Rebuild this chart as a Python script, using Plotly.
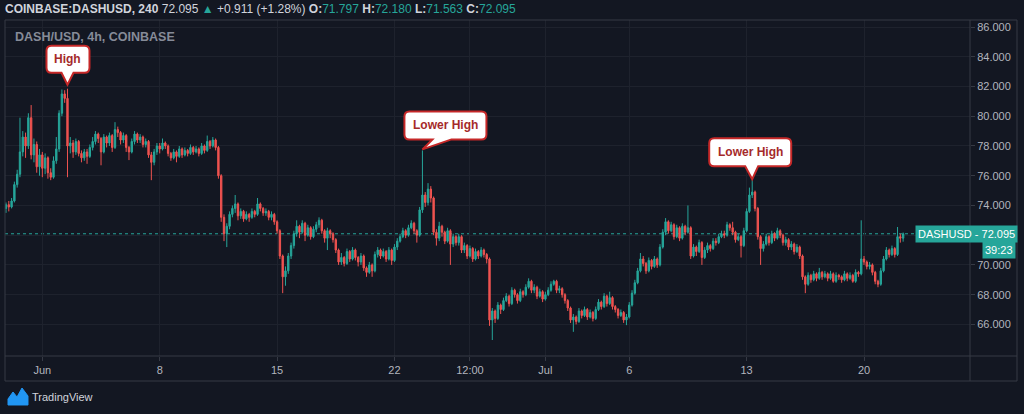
import pandas as pd
import plotly.graph_objects as go

# ---------------- data (DASH/USD, 4h candles, Coinbase) ----------------
first_bar = "2020-05-29 20:00"

opens = [73.8,
 74.05, 73.9, 74.3, 75.4, 76.1, 77.6, 78.6, 78.0, 79.9, 77.4,
 78.1, 76.6, 77.4, 76.5, 77.2, 76.2, 75.9, 77.0, 77.8, 80.2,
 81.5, 81.2, 78.0, 78.2, 77.6, 78.3, 77.5, 77.2, 77.6, 77.3,
 77.9, 78.3, 78.8, 78.5, 77.6, 78.6, 78.2, 78.7, 77.9, 79.1,
 78.9, 78.4, 78.7, 77.9, 77.6, 78.3, 78.8, 78.4, 78.6, 78.1,
 78.3, 77.4, 76.9, 77.6, 78.0, 77.8, 78.2, 78.0, 77.5, 77.2,
 77.6, 77.3, 77.8, 77.4, 77.7, 77.5, 77.9, 77.6, 77.8, 77.5,
 78.0, 77.7, 78.3, 78.0, 78.4, 77.9, 76.0, 73.2, 72.1, 72.6,
 73.4, 73.8, 74.1, 73.3, 73.6, 73.1, 73.4, 73.2, 73.6, 73.4,
 74.1, 73.8, 73.5, 73.6, 73.2, 73.4, 72.9, 72.3, 70.6, 69.2,
 69.6, 70.6, 71.3, 72.1, 72.6, 72.2, 72.8, 72.0, 72.5, 71.9,
 72.4, 72.7, 73.0, 72.3, 71.8, 72.3, 72.1, 71.7, 71.0, 70.2,
 70.5, 70.1, 70.9, 70.4, 71.0, 70.5, 70.2, 70.6, 69.8, 69.5,
 70.0, 69.6, 70.7, 71.0, 70.6, 70.9, 70.4, 71.0, 70.3, 71.2,
 71.6, 71.9, 72.3, 72.0, 72.5, 72.8, 72.3, 72.0, 73.7, 74.7,
 74.2, 75.1, 74.5, 72.2, 71.8, 72.6, 72.2, 71.6, 72.3, 71.4,
 71.9, 71.5, 71.9, 71.0, 71.3, 70.6, 71.1, 70.4, 70.9, 70.6,
 71.0, 70.7, 70.4, 66.3, 66.9, 66.4, 67.3, 67.0, 67.6, 67.9,
 67.4, 68.3, 68.0, 67.6, 68.2, 68.0, 68.5, 68.9, 68.3, 68.5,
 67.9, 68.2, 67.7, 68.0, 68.3, 68.7, 68.9, 68.3, 68.4, 68.0,
 67.6, 67.1, 66.3, 66.5, 66.2, 66.9, 66.6, 67.0, 66.5, 66.8,
 66.4, 67.0, 67.5, 67.2, 67.9, 67.4, 67.8, 67.2, 67.0, 66.6,
 66.8, 66.3, 66.5, 67.3, 68.1, 68.8, 69.6, 70.4, 70.1, 69.6,
 70.3, 69.9, 70.4, 70.0, 71.2, 72.2, 72.9, 72.3, 72.7, 71.9,
 72.5, 71.8, 72.6, 72.2, 72.5, 70.6, 71.2, 70.9, 71.5, 70.5,
 71.0, 71.3, 71.1, 71.6, 71.5, 71.9, 72.1, 72.0, 72.7, 72.5,
 72.2, 71.7, 71.9, 71.3, 72.3, 73.6, 74.7, 74.9, 73.8, 71.9,
 71.1, 71.4, 71.9, 71.5, 72.1, 71.8, 72.3, 72.0, 71.5, 71.7,
 71.2, 71.4, 70.9, 71.2, 70.6, 69.2, 68.7, 69.3, 69.0, 69.4,
 69.1, 69.5, 69.2, 69.4, 69.1, 69.4, 68.9, 69.3, 69.2, 69.0,
 69.4, 69.1, 69.3, 68.9, 69.5, 69.4, 70.4, 70.2, 69.9, 70.0,
 69.5, 68.9, 68.7, 69.6, 70.4, 71.0, 70.7, 71.1, 70.7, 71.9,
 71.797]

highs = [
 74.2, 74.3, 74.5, 75.6, 76.4, 79.9, 79.0, 78.9, 80.2, 80.75,
 78.5, 78.3, 77.8, 77.6, 77.5, 77.3, 76.5, 77.3, 78.6, 80.4,
 81.8, 81.75, 81.85, 78.6, 78.4, 78.5, 78.4, 77.7, 77.8, 77.8,
 78.1, 78.6, 79.0, 78.9, 78.6, 78.8, 78.7, 78.9, 78.8, 79.6,
 79.3, 79.0, 78.9, 78.8, 78.0, 78.5, 79.0, 78.9, 78.8, 78.7,
 78.5, 78.4, 77.6, 77.8, 78.2, 78.2, 78.5, 78.3, 78.1, 77.6,
 77.8, 77.7, 78.0, 77.9, 77.9, 77.8, 78.1, 78.0, 78.0, 77.9,
 78.2, 78.1, 78.7, 78.4, 78.6, 78.5, 78.0, 76.1, 73.4, 72.8,
 73.6, 74.0, 74.7, 74.2, 73.8, 73.7, 73.6, 73.5, 73.8, 73.7,
 74.5, 74.2, 73.9, 73.8, 73.7, 73.6, 73.5, 73.0, 72.4, 70.7,
 69.9, 70.8, 71.5, 72.3, 73.0, 72.7, 73.0, 72.9, 72.7, 72.6,
 72.6, 72.9, 73.2, 73.1, 72.4, 72.5, 72.4, 72.2, 71.8, 71.1,
 70.8, 70.6, 71.1, 71.0, 71.2, 71.1, 70.6, 70.8, 70.7, 69.9,
 70.2, 70.1, 70.9, 71.2, 71.1, 71.1, 71.0, 71.2, 71.1, 71.4,
 71.8, 72.1, 72.5, 72.4, 72.7, 73.0, 72.9, 72.4, 73.9, 77.7,
 74.9, 75.5, 75.3, 74.6, 72.4, 72.9, 72.7, 72.3, 72.5, 72.4,
 72.1, 72.0, 72.1, 72.0, 71.5, 71.4, 71.3, 71.2, 71.1, 71.0,
 71.2, 71.1, 70.8, 70.5, 67.1, 67.0, 67.5, 67.4, 67.8, 68.1,
 68.0, 68.5, 68.4, 68.1, 68.4, 68.3, 68.7, 69.1, 69.0, 68.7,
 68.6, 68.4, 68.3, 68.2, 68.5, 68.9, 69.0, 69.0, 68.6, 68.5,
 68.1, 67.7, 67.2, 66.7, 66.6, 67.1, 67.0, 67.2, 67.1, 67.0,
 66.9, 67.2, 67.7, 67.6, 68.1, 68.0, 68.2, 67.9, 67.3, 67.1,
 67.0, 66.9, 66.7, 67.5, 68.3, 69.0, 69.8, 70.8, 70.6, 70.2,
 70.5, 70.4, 70.6, 70.5, 71.4, 72.4, 73.15, 73.0, 72.9, 72.8,
 72.7, 72.6, 72.8, 72.7, 74.0, 72.6, 71.4, 71.3, 71.7, 71.6,
 71.2, 71.5, 71.4, 71.8, 71.8, 72.1, 72.3, 72.3, 72.9, 72.8,
 72.9, 72.3, 72.1, 72.0, 72.5, 73.8, 75.2, 75.7, 75.0, 73.9,
 72.0, 71.6, 72.1, 72.0, 72.3, 72.2, 72.5, 72.4, 72.1, 71.9,
 71.8, 71.6, 71.5, 71.4, 71.3, 70.7, 69.3, 69.5, 69.4, 69.6,
 69.5, 69.8, 69.6, 69.6, 69.5, 69.6, 69.5, 69.5, 69.4, 69.3,
 69.6, 69.5, 69.5, 69.4, 69.7, 69.6, 73.0, 70.6, 70.3, 70.2,
 70.1, 69.6, 69.0, 69.8, 70.6, 71.2, 71.1, 71.3, 71.2, 72.55,
 72.1, 72.18]

lows = [
 73.5, 73.6, 73.8, 74.2, 75.2, 75.9, 77.3, 77.2, 77.8, 77.1,
 76.9, 76.2, 76.0, 75.9, 76.1, 75.8, 75.7, 75.8, 76.8, 77.6,
 80.0, 80.9, 75.9, 77.5, 77.2, 77.4, 77.3, 76.9, 77.0, 76.8,
 77.2, 77.7, 78.1, 78.2, 76.7, 77.5, 77.9, 78.0, 77.6, 77.8,
 78.6, 78.1, 78.2, 77.6, 77.05, 77.5, 78.1, 78.2, 78.2, 77.9,
 77.9, 77.2, 75.7, 76.7, 77.4, 77.5, 77.7, 77.8, 77.3, 77.0,
 77.1, 76.9, 77.2, 77.2, 77.3, 77.3, 77.4, 77.4, 77.5, 77.3,
 77.4, 77.5, 77.6, 77.8, 77.9, 77.7, 75.8, 72.9, 71.6, 71.2,
 72.4, 73.2, 73.5, 73.0, 73.1, 72.9, 73.0, 72.9, 73.1, 73.2,
 73.3, 73.6, 73.3, 73.3, 73.0, 73.0, 72.7, 72.1, 70.4, 68.1,
 68.6, 69.4, 70.4, 71.1, 71.9, 71.8, 72.1, 71.6, 71.9, 71.7,
 71.8, 72.2, 72.5, 72.1, 71.5, 71.0, 71.8, 71.5, 70.8, 70.0,
 70.0, 69.9, 70.0, 70.2, 70.3, 70.3, 69.9, 70.0, 69.6, 69.2,
 69.4, 69.2, 69.5, 70.5, 70.4, 70.5, 70.2, 70.3, 70.0, 70.2,
 71.0, 71.5, 71.8, 71.8, 71.9, 72.4, 72.1, 71.5, 71.9, 73.5,
 73.9, 74.0, 74.2, 72.0, 71.3, 71.6, 71.9, 71.4, 71.5, 70.0,
 71.2, 71.3, 71.3, 70.8, 70.8, 70.4, 70.5, 70.2, 70.3, 70.4,
 70.5, 70.5, 70.1, 65.9, 64.95, 66.1, 66.3, 66.7, 66.9, 67.5,
 67.2, 67.3, 67.8, 67.4, 67.5, 67.8, 67.9, 68.4, 68.1, 68.1,
 67.7, 67.8, 67.5, 67.6, 67.9, 68.2, 68.6, 68.1, 68.1, 67.8,
 67.4, 66.9, 66.1, 65.5, 66.0, 66.1, 66.4, 66.5, 66.3, 66.4,
 66.2, 66.3, 66.9, 67.0, 67.1, 67.2, 67.3, 67.0, 66.8, 66.4,
 66.5, 66.1, 65.95, 66.4, 67.2, 68.0, 68.7, 69.5, 69.9, 69.4,
 69.5, 69.7, 69.8, 69.8, 69.9, 71.1, 72.0, 72.1, 72.2, 71.7,
 71.8, 71.6, 71.7, 72.0, 72.1, 70.4, 70.5, 70.6, 70.8, 70.0,
 70.4, 70.8, 70.9, 71.0, 71.3, 71.4, 71.8, 71.8, 71.9, 72.3,
 72.0, 71.5, 71.6, 70.5, 71.2, 72.2, 73.5, 74.5, 73.6, 71.7,
 70.0, 70.9, 71.3, 71.3, 71.4, 71.6, 71.7, 71.8, 71.3, 71.3,
 71.0, 71.0, 70.7, 70.8, 70.4, 69.0, 68.1, 68.6, 68.8, 68.9,
 68.9, 69.0, 69.0, 69.1, 68.9, 69.0, 68.8, 68.8, 69.0, 68.8,
 68.9, 68.9, 69.0, 68.8, 68.8, 69.2, 69.3, 70.0, 69.7, 69.7,
 69.3, 68.7, 68.5, 68.6, 69.5, 70.3, 70.5, 70.6, 70.5, 70.6,
 71.5, 71.563]

closes = [
 74.05, 73.9, 74.3, 75.4, 76.1, 77.6, 78.6, 78.0, 79.9, 77.4,
 78.1, 76.6, 77.4, 76.5, 77.2, 76.2, 75.9, 77.0, 77.8, 80.2,
 81.5, 81.2, 78.0, 78.2, 77.6, 78.3, 77.5, 77.2, 77.6, 77.3,
 77.9, 78.3, 78.8, 78.5, 77.6, 78.6, 78.2, 78.7, 77.9, 79.1,
 78.9, 78.4, 78.7, 77.9, 77.6, 78.3, 78.8, 78.4, 78.6, 78.1,
 78.3, 77.4, 76.9, 77.6, 78.0, 77.8, 78.2, 78.0, 77.5, 77.2,
 77.6, 77.3, 77.8, 77.4, 77.7, 77.5, 77.9, 77.6, 77.8, 77.5,
 78.0, 77.7, 78.3, 78.0, 78.4, 77.9, 76.0, 73.2, 72.1, 72.6,
 73.4, 73.8, 74.1, 73.3, 73.6, 73.1, 73.4, 73.2, 73.6, 73.4,
 74.1, 73.8, 73.5, 73.6, 73.2, 73.4, 72.9, 72.3, 70.6, 69.2,
 69.6, 70.6, 71.3, 72.1, 72.6, 72.2, 72.8, 72.0, 72.5, 71.9,
 72.4, 72.7, 73.0, 72.3, 71.8, 72.3, 72.1, 71.7, 71.0, 70.2,
 70.5, 70.1, 70.9, 70.4, 71.0, 70.5, 70.2, 70.6, 69.8, 69.5,
 70.0, 69.6, 70.7, 71.0, 70.6, 70.9, 70.4, 71.0, 70.3, 71.2,
 71.6, 71.9, 72.3, 72.0, 72.5, 72.8, 72.3, 72.0, 73.7, 74.7,
 74.2, 75.1, 74.5, 72.2, 71.8, 72.6, 72.2, 71.6, 72.3, 71.4,
 71.9, 71.5, 71.9, 71.0, 71.3, 70.6, 71.1, 70.4, 70.9, 70.6,
 71.0, 70.7, 70.4, 66.3, 66.9, 66.4, 67.3, 67.0, 67.6, 67.9,
 67.4, 68.3, 68.0, 67.6, 68.2, 68.0, 68.5, 68.9, 68.3, 68.5,
 67.9, 68.2, 67.7, 68.0, 68.3, 68.7, 68.9, 68.3, 68.4, 68.0,
 67.6, 67.1, 66.3, 66.5, 66.2, 66.9, 66.6, 67.0, 66.5, 66.8,
 66.4, 67.0, 67.5, 67.2, 67.9, 67.4, 67.8, 67.2, 67.0, 66.6,
 66.8, 66.3, 66.5, 67.3, 68.1, 68.8, 69.6, 70.4, 70.1, 69.6,
 70.3, 69.9, 70.4, 70.0, 71.2, 72.2, 72.9, 72.3, 72.7, 71.9,
 72.5, 71.8, 72.6, 72.2, 72.5, 70.6, 71.2, 70.9, 71.5, 70.5,
 71.0, 71.3, 71.1, 71.6, 71.5, 71.9, 72.1, 72.0, 72.7, 72.5,
 72.2, 71.7, 71.9, 71.3, 72.3, 73.6, 74.7, 74.9, 73.8, 71.9,
 71.1, 71.4, 71.9, 71.5, 72.1, 71.8, 72.3, 72.0, 71.5, 71.7,
 71.2, 71.4, 70.9, 71.2, 70.6, 69.2, 68.7, 69.3, 69.0, 69.4,
 69.1, 69.5, 69.2, 69.4, 69.1, 69.4, 68.9, 69.3, 69.2, 69.0,
 69.4, 69.1, 69.3, 68.9, 69.5, 69.4, 70.4, 70.2, 69.9, 70.0,
 69.5, 68.9, 68.7, 69.6, 70.4, 71.0, 70.7, 71.1, 70.7, 71.9,
 71.797, 72.095]

x_tick_vals = ["2020-06-01", "2020-06-08", "2020-06-15", "2020-06-22",
               "2020-06-26 12:00", "2020-07-01", "2020-07-06", "2020-07-13",
               "2020-07-20"]
x_tick_text = ["Jun", "8", "15", "22", "12:00", "Jul", "6", "13", "20"]
y_tick_vals = [66, 68, 70, 72, 74, 76, 78, 80, 82, 84, 86]
y_tick_text = ["66.000", "68.000", "70.000", "", "74.000", "76.000",
               "78.000", "80.000", "82.000", "84.000", "86.000"]  # 72.000 sits under the price label

callout_bars = [22, 149, 267]
callout_texts = ["High", "Lower High", "Lower High"]

symbol_text = "COINBASE:DASHUSD, 240"
change_text = "+0.911 (+1.28%)"
chart_label = "DASH/USD, 4h, COINBASE"
ticker = "DASHUSD"
countdown = "39:23"

# ---------------- styling ----------------
UP = "#26a69a"
DOWN = "#ef5350"
BG = "#131722"
GRID = "#1e222d"
BORDER = "#363a45"
TXT = "#b2b5be"
HEAD = "#d1d4dc"
CALLOUT_RED = "#c62828"
FONT = "Liberation Sans, Arial, sans-serif"

W, H = 1024, 414
PL, PR, PT, PB = 5, 970, 20, 356


def px_x(px):
    return (px - PL) / (PR - PL)


def px_y(py):
    return (PB - py) / (PB - PT)


bar_times = pd.date_range(first_bar, periods=len(closes), freq="4h")

fig = go.Figure(go.Candlestick(
    x=bar_times, open=opens, high=highs, low=lows, close=closes,
    increasing=dict(line=dict(color=UP, width=1), fillcolor=UP),
    decreasing=dict(line=dict(color=DOWN, width=1), fillcolor=DOWN),
    whiskerwidth=0, hoverinfo="skip", showlegend=False,
))

shapes = []
annotations = []

# frame of the widget
shapes.append(dict(type="rect", xref="paper", yref="paper",
                   x0=px_x(5), x1=px_x(1017), y0=px_y(381), y1=px_y(20),
                   line=dict(color=BORDER, width=1), fillcolor="rgba(0,0,0,0)", layer="above"))
shapes.append(dict(type="line", xref="paper", yref="paper",
                   x0=1, x1=1, y0=px_y(381), y1=1, line=dict(color=BORDER, width=1), layer="above"))
shapes.append(dict(type="line", xref="paper", yref="paper",
                   x0=0, x1=px_x(1017), y0=0, y1=0, line=dict(color=BORDER, width=1), layer="above"))

# last price dotted line
last_close = closes[-1]
shapes.append(dict(type="line", xref="paper", yref="y",
                   x0=0, x1=px_x(915), y0=last_close, y1=last_close,
                   line=dict(color=UP, width=1, dash="dot"), layer="below"))

# callout bubbles (pixel geometry relative to each bar's high)
callout_geom = [
    dict(x0=-21, x1=22, ybot=16, ytop=43, bx0=-6, bx1=6, tip=4),
    dict(x0=-18, x1=64, ybot=11, ytop=39, bx0=10, bx1=29, tip=1),
    dict(x0=-43, x1=39, ybot=14, ytop=42, bx0=-7, bx1=6, tip=1),
]


def bubble_path(g, r=5):
    x0, x1, yb, yt = g["x0"], g["x1"], g["ybot"], g["ytop"]
    return (f"M{g['bx0']},{yb} L{x0 + r},{yb} Q{x0},{yb} {x0},{yb + r} "
            f"L{x0},{yt - r} Q{x0},{yt} {x0 + r},{yt} L{x1 - r},{yt} "
            f"Q{x1},{yt} {x1},{yt - r} L{x1},{yb + r} Q{x1},{yb} {x1 - r},{yb} "
            f"L{g['bx1']},{yb} L0,{g['tip']} Z")


for bar, text, g in zip(callout_bars, callout_texts, callout_geom):
    bx = bar_times[bar]
    by = highs[bar]
    shapes.append(dict(type="path", xref="x", yref="y",
                       xsizemode="pixel", ysizemode="pixel",
                       xanchor=bx, yanchor=by, path=bubble_path(g),
                       fillcolor="white", line=dict(color=CALLOUT_RED, width=2),
                       layer="above"))
    annotations.append(dict(x=bx, y=by, xref="x", yref="y", text=f"<b>{text}</b>",
                            showarrow=False, xanchor="center", yanchor="middle",
                            xshift=(g["x0"] + g["x1"]) / 2,
                            yshift=(g["ybot"] + g["ytop"]) / 2,
                            font=dict(family=FONT, size=12, color="#a52a2a")))

# header legend
o, h, l, c = opens[-1], highs[-1], lows[-1], closes[-1]
teal = lambda v: f"<span style='color:{UP}'>{v:.3f}</span>"
header = (f"<b>{symbol_text}</b> {c:.3f} <span style='color:{UP}'>▲</span> "
          f"{change_text} <b>O:</b>{teal(o)} <b>H:</b>{teal(h)} "
          f"<b>L:</b>{teal(l)} <b>C:</b>{teal(c)}")
annotations.append(dict(x=px_x(3), y=px_y(9), xref="paper", yref="paper", text=header,
                        showarrow=False, xanchor="left", yanchor="middle",
                        font=dict(family=FONT, size=12, color=HEAD)))
annotations.append(dict(x=px_x(13), y=px_y(37), xref="paper", yref="paper",
                        text=f"<b>{chart_label}</b>", showarrow=False,
                        xanchor="left", yanchor="middle",
                        font=dict(family=FONT, size=12.5, color="#868b98")))

# last price labels on the price scale
annotations.append(dict(x=px_x(915), y=last_close, xref="paper", yref="y",
                        text=f"{ticker} - {last_close:.3f}", showarrow=False,
                        xanchor="left", yanchor="middle", bgcolor=UP, borderpad=2,
                        font=dict(family=FONT, size=11, color="white")))
annotations.append(dict(x=px_x(1016), y=last_close, xref="paper", yref="y",
                        text=countdown, showarrow=False, yshift=-16,
                        xanchor="right", yanchor="middle", bgcolor=UP, borderpad=2,
                        font=dict(family=FONT, size=11, color="white")))

# TradingView logo
logo_pts = [(8, 405), (8, 399), (13, 392), (17, 397), (22, 388), (28, 396), (28, 405)]
logo_path = "M" + " L".join(f"{px_x(a):.5f},{px_y(b):.5f}" for a, b in logo_pts) + " Z"
shapes.append(dict(type="path", xref="paper", yref="paper", path=logo_path,
                   fillcolor="#2196f3", line=dict(color="#2196f3", width=1)))
annotations.append(dict(x=px_x(30), y=px_y(397), xref="paper", yref="paper",
                        text="TradingView", showarrow=False, xanchor="left",
                        yanchor="middle", font=dict(family=FONT, size=11, color=HEAD)))

fig.update_layout(
    width=W, height=H,
    margin=dict(l=PL, r=W - PR, t=PT, b=H - PB, pad=0),
    paper_bgcolor=BG, plot_bgcolor=BG,
    font=dict(family=FONT, size=11, color=TXT),
    showlegend=False,
    xaxis=dict(type="date", range=["2020-05-29 18:34", "2020-07-26 07:42"],
               rangeslider=dict(visible=False), tickvals=x_tick_vals,
               ticktext=x_tick_text, showgrid=True, gridcolor=GRID, gridwidth=1,
               ticks="outside", ticklen=4, tickcolor=BORDER, zeroline=False,
               showline=False, fixedrange=True, tickfont=dict(size=11, color=TXT)),
    yaxis=dict(side="right", range=[63.875, 86.471], tickvals=y_tick_vals,
               ticktext=y_tick_text, showgrid=True, gridcolor=GRID, gridwidth=1,
               ticks="outside", ticklen=4, tickcolor=BORDER, zeroline=False,
               showline=False, fixedrange=True, tickfont=dict(size=11, color=TXT)),
    shapes=shapes, annotations=annotations,
)

fig.write_html("out.html", config={"displayModeBar": False},
               post_script="document.body.style.margin='0';document.body.style.background='#131722';")
